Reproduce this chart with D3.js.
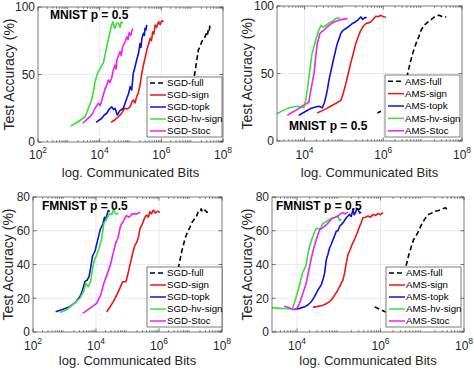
<!DOCTYPE html>
<html><head><meta charset="utf-8">
<script src="https://cdn.jsdelivr.net/npm/d3@7"></script>
<style>body{margin:0;background:#fff}svg{display:block}text{font-family:"Liberation Sans",Arial,Helvetica,sans-serif}</style>
</head><body><div id="chart"></div>
<script>
// x values are log10(communicated bits); y values are test accuracy (%)
const seriesNamesSGD = ["SGD-full","SGD-sign","SGD-topk","SGD-hv-sign","SGD-Stoc"];
const seriesNamesAMS = ["AMS-full","AMS-sign","AMS-topk","AMS-hv-sign","AMS-Stoc"];
const seriesColors = ["#000000","#f01515","#1010dc","#38e038","#f020f0"];
const xTickExponents = [2,4,6,8];
const yTicksMNIST = [0,50,100];
const yTicksFMNIST = [0,20,40,60,80];

const mnistSgdFull = [[7.07,48.9],[7.12,56],[7.15,60.7],[7.20,68],[7.26,71],[7.31,74.3],[7.37,76],[7.42,78],[7.48,81.7],[7.50,80],[7.53,84.2],[7.56,83],[7.58,88]];
const mnistSgdSign = [[4.37,14.6],[4.50,16.5],[4.61,18.7],[4.70,21],[4.82,25],[4.90,24.5],[4.99,26.1],[5.05,30],[5.09,31.1],[5.15,29],[5.20,33.6],[5.25,36],[5.31,42.2],[5.36,50],[5.42,57],[5.47,62],[5.53,68.1],[5.58,72],[5.64,76.8],[5.68,75],[5.72,81.7],[5.76,80],[5.80,86.7],[5.85,85],[5.91,89.1],[5.96,87],[6.02,90],[6.07,89]];
const mnistSgdTopk = [[3.88,14.6],[4.07,17.6],[4.15,20],[4.23,21.3],[4.30,24],[4.39,26.1],[4.45,24],[4.50,25],[4.57,20],[4.65,23],[4.77,25],[4.83,29],[4.88,32.4],[4.94,36],[4.99,41],[5.04,38.5],[5.09,50.9],[5.14,55],[5.20,60.7],[5.26,65.7],[5.31,73],[5.34,70],[5.37,76.8],[5.42,80.5],[5.45,79],[5.47,84.2],[5.50,83],[5.53,86.7]];
const mnistSgdHvSign = [[3.06,11.9],[3.30,15],[3.53,18.7],[3.65,26],[3.74,31],[3.80,38],[3.85,44.7],[3.92,50],[3.98,53.3],[4.05,56],[4.12,58.5],[4.17,64],[4.23,70.6],[4.28,76],[4.34,81.7],[4.38,86],[4.43,89],[4.47,85],[4.50,84.4],[4.55,88],[4.61,88],[4.66,85],[4.70,89],[4.75,88]];
const mnistSgdStoc = [[3.45,13.9],[3.60,17],[3.74,20],[3.85,25],[3.96,28.7],[4.02,27],[4.07,31],[4.12,35],[4.18,39.8],[4.23,42],[4.28,45.9],[4.33,44],[4.39,47.4],[4.45,54],[4.50,57],[4.53,54],[4.56,60.7],[4.61,64],[4.66,66.9],[4.70,64],[4.74,70],[4.77,71.9],[4.82,74],[4.88,78],[4.92,76],[4.96,81],[5.01,79],[5.07,84.2]];

const mnistAmsFull = [[5.85,20.7],[5.94,22],null,[6.60,47],[6.65,54],[6.70,59.8],[6.76,66],[6.83,72.1],[6.90,77],[6.96,82],[7.05,86],[7.13,88.1],[7.22,90],[7.30,91.9],[7.37,93],[7.43,93.1],[7.50,92],[7.60,91.9]];
const mnistAmsSign = [[4.32,20.7],[4.45,22.5],[4.56,24],[4.66,25.7],[4.80,28],[4.92,30.1],[4.98,35],[5.05,42.5],[5.11,50],[5.17,57.3],[5.23,64],[5.30,72.1],[5.36,77],[5.43,82],[5.49,85],[5.56,87],[5.62,87.5],[5.68,88.1],[5.74,90],[5.81,92.4],[5.87,92],[5.94,93.1],[6.00,92],[6.07,91.9]];
const mnistAmsTopk = [[3.85,19],[4.00,21.5],[4.15,24],[4.26,25],[4.36,25.7],[4.45,24.7],[4.50,28],[4.54,32.6],[4.58,38],[4.62,45],[4.68,53],[4.73,59.8],[4.78,66],[4.83,72.1],[4.88,76],[4.92,79.6],[4.98,82],[5.05,83.3],[5.13,85],[5.21,87],[5.28,88],[5.34,89.4],[5.40,91],[5.43,91.9],[5.48,90],[5.53,91.5],[5.58,91.4]];
const mnistAmsHvSign = [[3.30,20.3],[3.45,22.5],[3.56,24],[3.70,25.2],[3.81,25.7],[3.98,24.7],[4.03,30.1],[4.07,38],[4.11,47.4],[4.15,56],[4.19,64.7],[4.24,70],[4.28,74.6],[4.32,78],[4.36,82],[4.42,85.7],[4.47,84.4],[4.54,85.7],[4.60,87],[4.66,88.1],[4.72,89],[4.79,90.7],[4.85,91],[4.90,91.4]];
const mnistAmsStoc = [[3.56,19],[3.70,21.5],[3.85,24],[3.95,26],[4.05,27.7],[4.11,28.9],[4.15,36],[4.20,44],[4.24,49.9],[4.28,61],[4.32,72.1],[4.36,76],[4.39,79.6],[4.44,81],[4.49,82],[4.55,84],[4.62,85.7],[4.68,87],[4.75,88.1],[4.83,89],[4.92,89.9],[5.00,90.3],[5.09,90.7]];

const fmnistSgdFull = [[6.61,37.5],[6.67,43],[6.72,47.6],[6.78,52],[6.83,55.5],[6.90,59],[6.98,62],[7.05,65],[7.14,67.4],[7.20,69],[7.25,71.5],[7.30,71.3],[7.34,73],[7.38,71],[7.46,72.3],[7.52,71],[7.60,71.3]];
const fmnistSgdSign = [[4.34,12],[4.45,15],[4.55,18],[4.63,21],[4.71,23.9],[4.78,27],[4.85,29.8],[4.95,29.8],[5.03,35.7],[5.08,40],[5.13,43.7],[5.18,48],[5.24,51.6],[5.29,53],[5.34,55.5],[5.40,61.5],[5.45,63],[5.50,65.4],[5.55,68],[5.61,69.3],[5.66,68],[5.71,71.3],[5.76,70],[5.82,72.3],[5.88,70.5],[5.95,71.5],[6.03,71]];
const fmnistSgdTopk = [[2.72,12],[2.95,13.5],[3.17,15],[3.35,17.5],[3.49,21],[3.56,23.9],[3.65,30],[3.72,30.8],[3.78,33],[3.83,38],[3.89,45],[3.97,48],[4.06,55],[4.10,58],[4.14,61],[4.22,64],[4.27,68],[4.30,66],[4.34,69],[4.39,72],[4.44,71.5]];
const fmnistSgdHvSign = [[2.85,11.5],[3.05,13],[3.23,15.6],[3.40,18.5],[3.49,20],[3.60,23.9],[3.68,28.8],[3.75,26.8],[3.83,29.8],[3.87,35],[3.91,39.7],[3.96,43],[4.02,45.6],[4.10,49.6],[4.18,55.5],[4.25,64.4],[4.30,66],[4.34,67.4],[4.40,69],[4.44,70.3],[4.50,69.5],[4.55,72.3],[4.63,70],[4.71,70.3]];
const fmnistSgdStoc = [[3.58,11],[4.02,17],[4.15,22],[4.25,29],[4.35,34],[4.46,40],[4.55,47],[4.63,53],[4.70,56],[4.78,63],[4.88,66],[4.96,69],[5.05,68],[5.15,70],[5.30,70],[5.40,71]];

const fmnistAmsFull = [[5.86,14.9],[6.12,11.9],null,[6.53,30],[6.60,38],[6.67,45],[6.73,50],[6.79,54.7],[6.85,57],[6.91,59.7],[6.97,63],[7.03,65.7],[7.09,68],[7.15,69.7],[7.23,70.5],[7.31,71.6],[7.39,72],[7.47,72.7],[7.55,73.7],[7.60,72.5]];
const fmnistAmsSign = [[4.38,14.6],[4.50,15.2],[4.62,15.9],[4.70,16.8],[4.78,17.9],[4.84,19.5],[4.90,21.9],[4.96,24],[5.02,26.9],[5.10,30.9],[5.14,35],[5.18,40.8],[5.22,45.8],[5.26,48],[5.30,50.7],[5.37,54.7],[5.44,58.7],[5.50,62.7],[5.54,65],[5.58,67.7],[5.64,68],[5.70,68.7],[5.76,68],[5.82,69.7],[5.88,69],[5.94,70.3],[6.00,69.5],[6.06,70.7]];
const fmnistAmsTopk = [[3.94,13.4],[4.06,14],[4.18,14.9],[4.26,16],[4.34,17.9],[4.42,21],[4.50,24.9],[4.58,27.9],[4.62,31],[4.66,34.9],[4.70,42.8],[4.74,46],[4.78,49.8],[4.82,52],[4.86,54.7],[4.90,57],[4.94,59.7],[4.98,60],[5.02,62.7],[5.10,64.7],[5.18,67.7],[5.26,69.7],[5.30,68.5],[5.34,72.7],[5.37,69.5],[5.40,70.7],[5.43,73],[5.46,72.7],[5.50,70.5],[5.54,71]];
const fmnistAmsHvSign = [[3.40,14.3],[3.60,14],[3.75,13.8],[3.89,13.6],[3.97,20],[4.05,27],[4.13,35],[4.21,39],[4.26,46],[4.30,51],[4.37,56],[4.45,61],[4.50,61.5],[4.56,61],[4.61,64],[4.67,65],[4.73,66],[4.79,67],[4.86,67.5],[4.92,68],[4.98,68.7],[5.02,66],[5.06,67]];
const fmnistAmsStoc = [[3.69,15.2],[3.80,14.5],[3.90,13.4],[3.98,13.4],[4.06,17],[4.14,22.9],[4.22,28.9],[4.30,38.8],[4.38,47.8],[4.46,54.7],[4.54,60.7],[4.60,61.5],[4.66,62.7],[4.72,64],[4.78,65.7],[4.86,67.7],[4.92,68],[4.98,68.7],[5.04,70],[5.10,70.7],[5.16,70],[5.22,71]];

const W = 474, H = 370;
const svg = d3.select("#chart").append("svg").attr("width", W).attr("height", H);

const panels = [
  {x0:38,x1:223,y0:7,y1:142,xmin:2,ymax:100,yTicks:yTicksMNIST,names:seriesNamesSGD,
   data:[mnistSgdFull,mnistSgdSign,mnistSgdTopk,mnistSgdHvSign,mnistSgdStoc],
   title:"MNIST p = 0.5",tx:50,ty:19,leg:[147,77,222,137],tickBase:159,labBase:177,ylx:9},
  {x0:277,x1:462,y0:6,y1:141,xmin:3.3,ymax:100,yTicks:yTicksMNIST,names:seriesNamesAMS,
   data:[mnistAmsFull,mnistAmsSign,mnistAmsTopk,mnistAmsHvSign,mnistAmsStoc],
   title:"MNIST p = 0.5",tx:289,ty:129.5,leg:[385,75,460,137],tickBase:159,labBase:177,ylx:247},
  {x0:33,x1:222,y0:197,y1:332,xmin:2,ymax:80,yTicks:yTicksFMNIST,names:seriesNamesSGD,
   data:[fmnistSgdFull,fmnistSgdSign,fmnistSgdTopk,fmnistSgdHvSign,fmnistSgdStoc],
   title:"FMNIST p = 0.5",tx:42,ty:209.5,leg:[147,267,222,327],tickBase:350,labBase:365,ylx:8},
  {x0:272,x1:464,y0:197,y1:332,xmin:3.4,ymax:80,yTicks:yTicksFMNIST,names:seriesNamesAMS,
   data:[fmnistAmsFull,fmnistAmsSign,fmnistAmsTopk,fmnistAmsHvSign,fmnistAmsStoc],
   title:"FMNIST p = 0.5",tx:276,ty:209.5,leg:[386,267,461,327],tickBase:350,labBase:365,ylx:247}
];

const axisCol = "#262626";

panels.forEach(p => {
  const x = d3.scaleLog().domain([Math.pow(10,p.xmin), 1e8]).range([p.x0, p.x1]);
  const y = d3.scaleLinear().domain([0, p.ymax]).range([p.y1, p.y0]);
  const g = svg.append("g");
  const majors = xTickExponents.filter(e => e >= p.xmin).map(e => Math.pow(10, e));
  // grid
  majors.forEach(v => {
    if (x(v) > p.x0 + 1 && x(v) < p.x1 - 1)
      g.append("line").attr("x1", x(v)).attr("x2", x(v)).attr("y1", p.y0).attr("y2", p.y1)
       .attr("stroke", "#e2e2e2").attr("stroke-width", 0.7);
  });
  p.yTicks.forEach(v => {
    if (v > 0 && v < p.ymax)
      g.append("line").attr("x1", p.x0).attr("x2", p.x1).attr("y1", y(v)).attr("y2", y(v))
       .attr("stroke", "#e2e2e2").attr("stroke-width", 0.7);
  });
  // minor ticks
  for (let e = Math.floor(p.xmin); e < 8; e++) {
    for (let m = 2; m <= 9; m++) {
      const v = m * Math.pow(10, e);
      if (v <= Math.pow(10, p.xmin)) continue;
      const px = x(v);
      g.append("line").attr("x1", px).attr("x2", px).attr("y1", p.y1).attr("y2", p.y1 - 2)
       .attr("stroke", axisCol).attr("stroke-width", 0.5);
      g.append("line").attr("x1", px).attr("x2", px).attr("y1", p.y0).attr("y2", p.y0 + 2)
       .attr("stroke", axisCol).attr("stroke-width", 0.5);
    }
  }
  majors.forEach(v => {
    const px = x(v);
    g.append("line").attr("x1", px).attr("x2", px).attr("y1", p.y1).attr("y2", p.y1 - 3.5)
     .attr("stroke", axisCol).attr("stroke-width", 0.6);
    g.append("line").attr("x1", px).attr("x2", px).attr("y1", p.y0).attr("y2", p.y0 + 3.5)
     .attr("stroke", axisCol).attr("stroke-width", 0.6);
    const t = g.append("text").attr("x", px).attr("y", p.tickBase).attr("text-anchor", "middle")
      .attr("font-size", 12).attr("fill", axisCol);
    t.append("tspan").text("10");
    t.append("tspan").attr("dy", -6).attr("font-size", 8.5).text(Math.round(Math.log10(v)));
  });
  p.yTicks.forEach(v => {
    g.append("line").attr("x1", p.x0).attr("x2", p.x0 + 3.5).attr("y1", y(v)).attr("y2", y(v))
     .attr("stroke", axisCol).attr("stroke-width", 0.6);
    g.append("line").attr("x1", p.x1).attr("x2", p.x1 - 3.5).attr("y1", y(v)).attr("y2", y(v))
     .attr("stroke", axisCol).attr("stroke-width", 0.6);
    g.append("text").attr("x", p.x0 - 3).attr("y", y(v) + 4.3).attr("text-anchor", "end")
     .attr("font-size", 12).attr("fill", axisCol).text(v);
  });
  // lines
  const line = d3.line().defined(d => d !== null)
    .x(d => x(Math.pow(10, d[0]))).y(d => y(d[1]));
  p.data.forEach((d, i) => {
    g.append("path").attr("d", line(d)).attr("fill", "none")
     .attr("stroke", seriesColors[i]).attr("stroke-width", 1.6)
     .attr("stroke-linejoin", "round")
     .attr("stroke-dasharray", i === 0 ? "5,3" : null);
  });
  // box
  g.append("rect").attr("x", p.x0).attr("y", p.y0).attr("width", p.x1 - p.x0).attr("height", p.y1 - p.y0)
   .attr("fill", "none").attr("stroke", axisCol).attr("stroke-width", 0.6);
  // title annotation
  g.append("text").attr("x", p.tx).attr("y", p.ty).attr("font-size", 12).attr("font-weight", "bold")
   .attr("fill", "#000").text(p.title);
  // axis labels
  g.append("text").attr("x", (p.x0 + p.x1) / 2).attr("y", p.labBase).attr("text-anchor", "middle")
   .attr("font-size", 13).attr("fill", axisCol).text("log. Communicated Bits");
  g.append("text").attr("transform", `translate(${p.ylx},${(p.y0 + p.y1) / 2}) rotate(-90)`)
   .attr("text-anchor", "middle").attr("dy", "0.35em").attr("font-size", 14).attr("fill", axisCol)
   .text("Test Accuracy (%)");
  // legend
  const [lx0, ly0, lx1, ly1] = p.leg;
  g.append("rect").attr("x", lx0).attr("y", ly0).attr("width", lx1 - lx0).attr("height", ly1 - ly0)
   .attr("fill", "#fff").attr("stroke", axisCol).attr("stroke-width", 0.6);
  const step = (ly1 - ly0) / 5;
  p.names.forEach((n, i) => {
    const cy = ly0 + step * (i + 0.5);
    g.append("line").attr("x1", lx0 + 3).attr("x2", lx0 + 19).attr("y1", cy).attr("y2", cy)
     .attr("stroke", seriesColors[i]).attr("stroke-width", 1.5)
     .attr("stroke-dasharray", i === 0 ? "5,3" : null);
    g.append("text").attr("x", lx0 + 20).attr("y", cy + 3.4).attr("font-size", 9.7)
     .attr("fill", "#000").text(n);
  });
});
</script></body></html>
